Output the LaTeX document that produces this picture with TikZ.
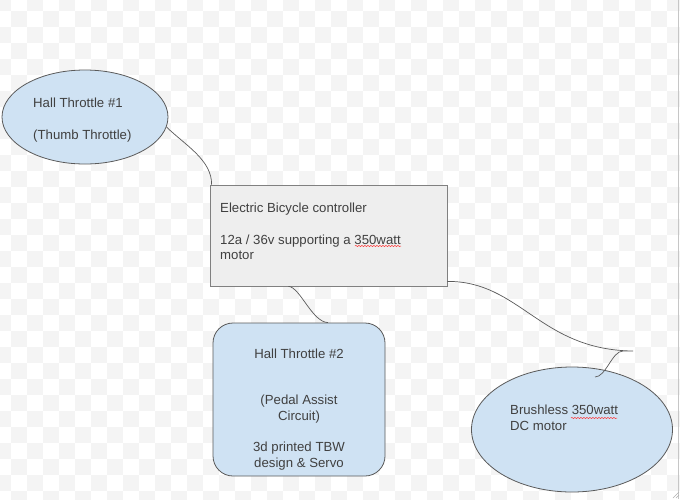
\documentclass[tikz,border=0pt]{standalone}
\usepackage{fontspec}
\setmainfont{Liberation Sans}
\usepackage{tikz}
\usetikzlibrary{arrows,shapes,positioning}
\usetikzlibrary{decorations.pathmorphing}

\definecolor{shapeblue}{HTML}{CFE2F3}
\definecolor{boxgray}{HTML}{EEEEEE}
\definecolor{linegray}{HTML}{5A5A5A}
\definecolor{textgray}{HTML}{404040}
\definecolor{checkgray}{HTML}{F4F4F4}

\begin{document}
\begin{tikzpicture}[x=1pt,y=-1pt,
  blob/.style={ellipse,draw=linegray,fill=shapeblue,line width=0.8pt,inner sep=0pt},
  ctrlbox/.style={rectangle,draw=gray,fill=boxgray,line width=0.8pt,inner sep=0pt},
  pedalbox/.style={rectangle,rounded corners=20pt,draw=linegray,fill=shapeblue,line width=0.8pt,inner sep=0pt},
  txt/.style={font=\fontsize{13.2}{16}\selectfont,text=textgray,inner sep=0pt},
  wire/.style={draw=linegray,line width=0.7pt},
  typo/.style={draw=red!80,line width=0.5pt,decorate,decoration={snake,amplitude=0.6pt,segment length=3pt}}]
  \useasboundingbox (0,0) rectangle (680,499);
  \fill[white] (0,0) rectangle (680,499);
  \begin{scope}
    \clip (0,0) rectangle (680,499);
    \foreach \j in {0,...,31} {
      \pgfmathtruncatemacro\odd{mod(\j,2)}
      \foreach \i in {0,2,...,42}
        \fill[checkgray] (-5+16*\i+16*\odd,-5+16*\j) rectangle ++(16,16);
    }
  \end{scope}
  \draw[gray!45,line width=1pt] (678.5,0) -- (678.5,499);
  \draw[gray!60,line width=0.5pt] (673,498) -- (679,492);
  \draw[gray!60,line width=0.5pt] (676,498) -- (679,495);

  \node[blob,minimum width=166pt,minimum height=94pt] (thumb) at (85,117) {};
  \node[ctrlbox,minimum width=237pt,minimum height=101pt] (ctrl) at (328.5,235.5) {};
  \node[pedalbox,minimum width=172pt,minimum height=153pt] (pedal) at (299,399.5) {};
  \node[blob,minimum width=201pt,minimum height=125pt] (motor) at (572,429.5) {};

  \node[txt,anchor=west,align=left] (thumbtxt) at (33,120) {Hall Throttle \#1\\[16pt](Thumb Throttle)};
  \node[txt,anchor=west,align=left,font=\fontsize{13.2}{15}\selectfont] (ctrltxt) at (220,231.5)
    {Electric Bicycle controller\\[17pt]12a / 36v supporting a 350watt\\motor};
  \node[txt,align=center] (pedaltxt) at (299,409.5)
    {Hall Throttle \#2\\[30pt](Pedal Assist\\Circuit)\\[15pt]3d printed TBW\\design \& Servo};
  \node[txt,anchor=west,align=left] (motortxt) at (510,418) {Brushless 350watt\\DC motor};
  \draw[typo] (355,246) -- (401,246);
  \draw[typo] (571,418) -- (617,418);

  \coordinate (bend) at (633,351);
  \coordinate (back) at (623,351);
  \coordinate (motorin) at (595,377);
  \draw[wire] (thumb.-7) .. controls (185,145) and (212,160) .. ([xshift=2pt]ctrl.north west);
  \draw[wire] ([xshift=-40pt]ctrl.south) .. controls (300,287) and (312,322) .. ([xshift=29pt]pedal.north);
  \draw[wire] ([yshift=5pt]ctrl.south east) .. controls (520,281) and (540,350) .. (bend)
    -- (back) .. controls (612,351) and (606,377) .. (motorin);
\end{tikzpicture}
\end{document}
